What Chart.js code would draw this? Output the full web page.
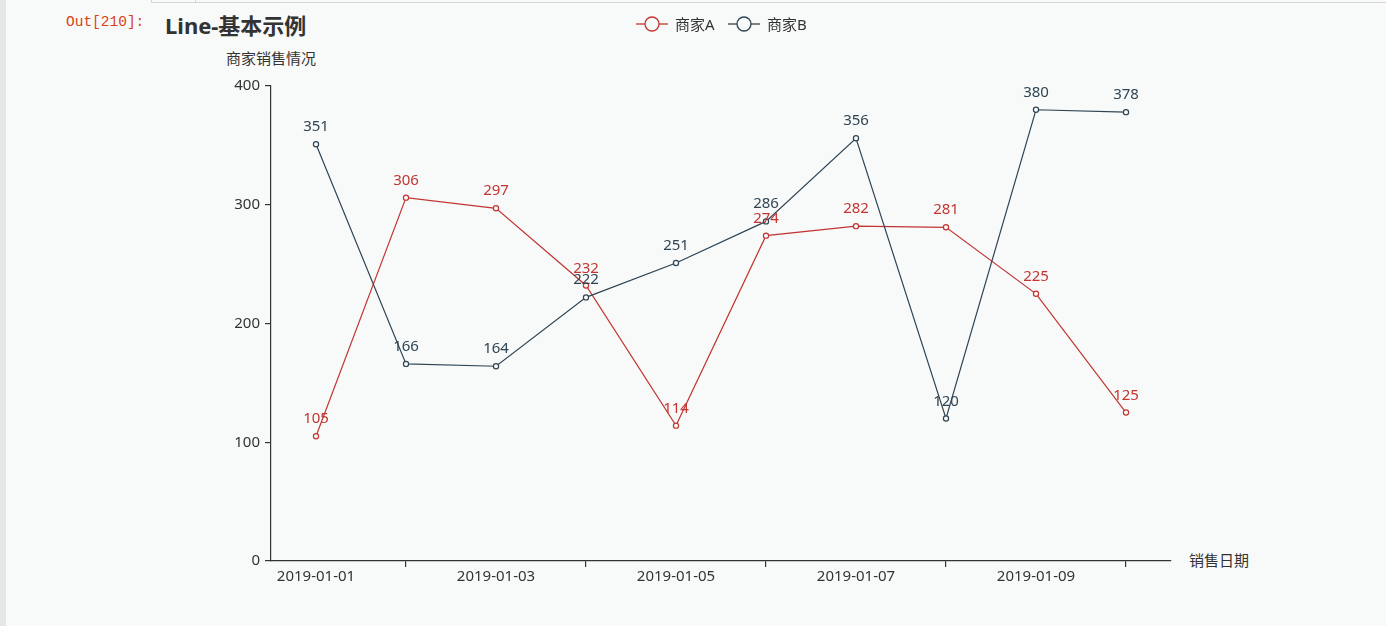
<!DOCTYPE html>
<html>
<head>
<meta charset="utf-8">
<script src="https://cdn.jsdelivr.net/npm/chart.js@4"></script>
<style>
  html, body { margin:0; padding:0; background:#f8f9f9; width:1386px; height:626px; overflow:hidden; }
  .t { position:absolute; white-space:nowrap; color:#333; font-family:'Noto Sans','Noto Sans CJK SC',sans-serif; }
  #strip { position:absolute; left:0; top:0; width:6px; height:626px; background:#e6e6e6; }
  #topline { position:absolute; left:151px; top:-1px; width:1240px; height:3px; border:1px solid #d6d6d6; border-top:none; }
  #topmark { position:absolute; left:195px; top:0; width:1px; height:3px; background:#d6d6d6; }
  #prompt { position:absolute; left:66px; top:11px; font:14.5px/22px 'Liberation Mono','DejaVu Sans Mono',monospace; color:#d84315; }
  #title { left:165px; top:10px; font-weight:bold; font-size:22px; line-height:30px; }
  #yname { left:226px; top:48px; font-size:15px; line-height:20px; }
  #xname { left:1189px; top:550px; font-size:15px; line-height:20px; }
  #chartbox { position:absolute; left:158px; top:0; width:1125px; height:626px; }
  .lg { position:absolute; top:14px; height:20px; }
  .lgtext { font-size:15px; line-height:20px; }
</style>
</head>
<body>
<div id="strip"></div>
<div id="topline"></div>
<div id="topmark"></div>
<div id="prompt">Out[210]:</div>
<div class="t" id="title">Line-基本示例</div>
<div class="t" id="yname">商家销售情况</div>
<div class="t" id="xname">销售日期</div>
<div id="chartbox"><canvas id="c" width="1125" height="626"></canvas></div>
<div id="legend"></div>
<script>
const categories = ['2019-01-01','2019-01-02','2019-01-03','2019-01-04','2019-01-05','2019-01-06','2019-01-07','2019-01-08','2019-01-09','2019-01-10'];
const seriesAName = '商家A';
const seriesBName = '商家B';
const seriesA = [105, 306, 297, 232, 114, 274, 282, 281, 225, 125];
const seriesB = [351, 166, 164, 222, 251, 286, 356, 120, 380, 378];
const yTicks = [0, 100, 200, 300, 400];

const colorA = '#c23531';
const colorB = '#2f4554';
const bg = '#f8f9f9';
const FONT = "'Noto Sans','Noto Sans CJK SC',sans-serif";

// HTML legend
const legendItems = [
  {name: seriesAName, color: colorA, x: 636},
  {name: seriesBName, color: colorB, x: 728}
];
const lg = document.getElementById('legend');
legendItems.forEach(it => {
  const d = document.createElement('div');
  d.className = 'lg';
  d.style.left = it.x + 'px';
  d.innerHTML = '<svg width="32" height="20" style="position:absolute;left:0;top:0">' +
    '<line x1="0" y1="10" x2="32" y2="10" stroke="' + it.color + '" stroke-width="1.3"/>' +
    '<circle cx="16" cy="10" r="7" fill="' + bg + '" stroke="' + it.color + '" stroke-width="1.3"/></svg>' +
    '<span class="t lgtext" style="left:39px;top:0">' + it.name + '</span>';
  lg.appendChild(d);
});

const valueLabels = {
  id: 'valueLabels',
  afterDatasetsDraw(chart) {
    const ctx = chart.ctx;
    ctx.save();
    ctx.font = '15px ' + FONT;
    ctx.textAlign = 'center';
    ctx.textBaseline = 'alphabetic';
    chart.data.datasets.forEach((ds, di) => {
      const meta = chart.getDatasetMeta(di);
      ctx.fillStyle = ds.borderColor;
      meta.data.forEach((pt, i) => {
        ctx.fillText(String(ds.data[i]), pt.x, pt.y - 13);
      });
    });
    ctx.restore();
  }
};

new Chart(document.getElementById('c'), {
  type: 'line',
  data: {
    labels: categories,
    datasets: [
      { label: seriesAName, data: seriesA, borderColor: colorA, backgroundColor: bg,
        borderWidth: 1.2, pointRadius: 2.6, pointBorderWidth: 1.2, pointBackgroundColor: bg,
        pointBorderColor: colorA, tension: 0, order: 1 },
      { label: seriesBName, data: seriesB, borderColor: colorB, backgroundColor: bg,
        borderWidth: 1.2, pointRadius: 2.6, pointBorderWidth: 1.2, pointBackgroundColor: bg,
        pointBorderColor: colorB, tension: 0, order: 0 }
    ]
  },
  options: {
    responsive: false,
    animation: false,
    layout: { padding: { left: 73, right: 112, top: 86, bottom: 25 } },
    plugins: { legend: { display: false }, tooltip: { enabled: false }, title: { display: false } },
    scales: {
      x: {
        type: 'category',
        offset: true,
        afterFit(s) { s.height = 40; },
        border: { display: true, color: '#333', width: 1.2 },
        grid: {
          offset: false, drawOnChartArea: false, drawTicks: true, tickLength: 6, lineWidth: 1.2,
          tickColor: (c) => (c.index % 2 === 1 ? '#333' : 'rgba(0,0,0,0)')
        },
        ticks: {
          autoSkip: false, maxRotation: 0, minRotation: 0, padding: 1, color: '#333',
          font: { size: 15, family: FONT },
          callback: function(v, i) { return i % 2 === 0 ? this.getLabelForValue(v) : ''; }
        }
      },
      y: {
        min: yTicks[0], max: yTicks[yTicks.length - 1],
        afterFit(s) { s.width = 40; },
        afterBuildTicks(s) { s.ticks = yTicks.map(v => ({ value: v })); },
        border: { display: true, color: '#333', width: 1.2 },
        grid: { drawOnChartArea: false, drawTicks: true, tickLength: 6, tickColor: '#333', lineWidth: 1.2 },
        ticks: { padding: 5, color: '#333', font: { size: 15, family: FONT } }
      }
    }
  },
  plugins: [valueLabels]
});
</script>
</body>
</html>
